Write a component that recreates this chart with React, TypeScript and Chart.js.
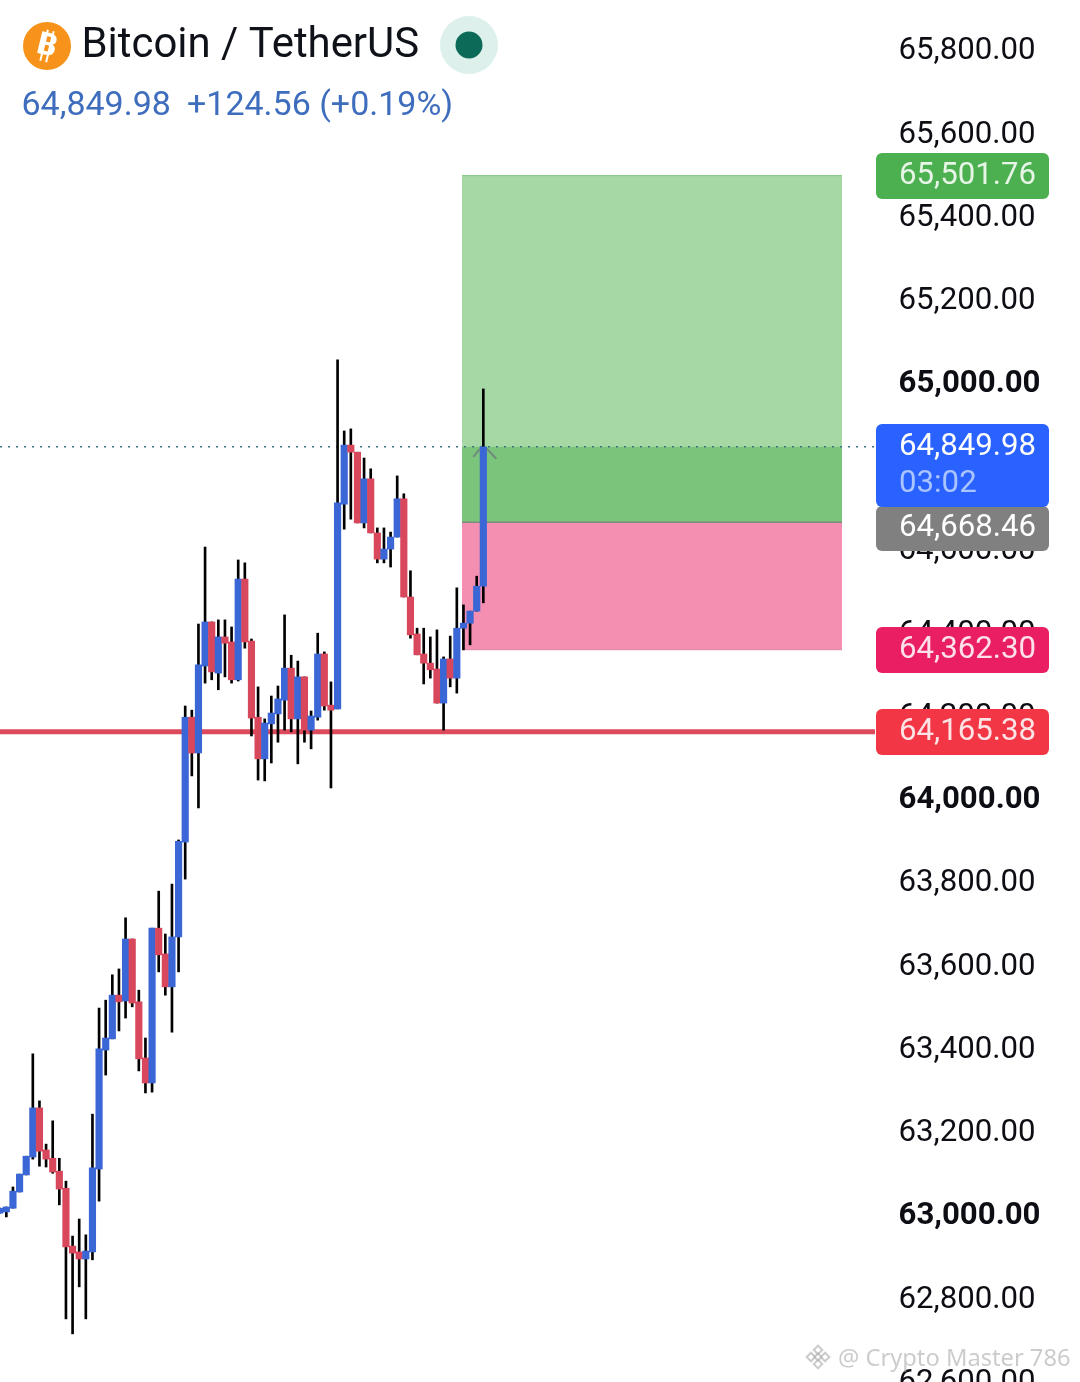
import React, { useEffect, useRef } from "react";
import { Chart, registerables } from "chart.js";

Chart.register(...registerables);

const opens = [63008,63011,63020,63059,63100,63143,63261,63160,63140,63109,63068,62929,62915,62898,62915,63114,63400,63427,63532,63518,63667,63516,63381,63321,63693,63631,63552,63672,63900,64200,64114,64323,64429,64306,64393,64381,64290,64532,64383,64200,64100,64184,64208,64241,64318,64196,64297,64169,64200,64352,64229,64220,64712,64854,64837,64667,64773,64643,64580,64604,64633,64725,64489,64400,64352,64330,64316,64234,64340,64294,64414,64426,64455,64515];
const closes = [63020,63023,63061,63102,63145,63261,63157,63138,63107,63066,62927,62912,62898,62917,63117,63403,63429,63532,63516,63667,63513,63379,63321,63693,63629,63552,63672,63902,64200,64114,64326,64429,64309,64393,64378,64290,64532,64381,64198,64100,64186,64210,64244,64318,64196,64297,64169,64203,64352,64227,64217,64715,64854,64837,64667,64773,64643,64580,64604,64633,64725,64489,64398,64350,64330,64314,64234,64340,64294,64414,64426,64455,64515,64849.98];
const highs = [63020,63023,63071,63102,63145,63391,63278,63174,63230,63140,63085,62953,62994,62956,63246,63501,63520,63581,63595,63718,63667,63544,63429,63693,63782,63679,63799,63905,64227,64217,64424,64609,64429,64434,64434,64417,64578,64571,64388,64273,64196,64251,64275,64446,64349,64335,64297,64215,64402,64357,64285,65059,64888,64893,64837,64823,64797,64655,64655,64645,64780,64737,64552,64414,64414,64393,64410,64345,64395,64511,64470,64455,64539,64989];
const lows = [63008,62999,63020,63059,63100,63138,63121,63119,63104,63028,62754,62718,62831,62754,62896,63037,63340,63427,63446,63477,63504,63350,63297,63299,63588,63532,63443,63588,63811,64059,63982,64282,64290,64266,64297,64282,64287,64366,64155,64049,64047,64090,64140,64169,64165,64088,64140,64124,64193,64217,64030,64220,64652,64676,64667,64655,64643,64571,64571,64561,64633,64489,64390,64350,64280,64294,64234,64169,64273,64258,64362,64374,64455,64475];

const tickValues = [62600,62800,63000,63200,63400,63600,63800,64000,64200,64400,64600,64800,65000,65200,65400,65600,65800];

const currentPrice = 64849.98;
const targetPrice = 65501.76;
const entryPrice = 64668.46;
const stopPrice = 64362.3;
const supportPrice = 64165.38;
const boxStartIndex = 69.78;
const boxEndIndex = 127.14;
const axisEndIndex = 132.12;
const axisStartIndex = 0.045;

const titleText = "Bitcoin / TetherUS";
const quoteText = "64,849.98";
const changeText = "+124.56 (+0.19%)";
const countdownText = "03:02";
const watermarkText = "@ Crypto Master 786";

const BLUE = "#3a66d6";
const RED = "#d9475c";

const fmt = (v: number) =>
  v.toLocaleString("en-US", { minimumFractionDigits: 2, maximumFractionDigits: 2 });

function flatLine(label: string, from: number, to: number, value: number, extra: any) {
  return {
    type: "line",
    label,
    yAxisID: "y",
    data: [{ x: from, y: value }, { x: to, y: value }],
    pointRadius: 0,
    borderWidth: 1,
    ...extra,
  };
}

function roundBox(ctx: CanvasRenderingContext2D, x: number, y: number, w: number, h: number, r: number, color: string) {
  ctx.fillStyle = color;
  ctx.beginPath();
  ctx.roundRect(x, y, w, h, r);
  ctx.fill();
}

const overlay = {
  id: "overlay",
  afterDraw(chart: any) {
    const ctx: CanvasRenderingContext2D = chart.ctx;
    const yScale = chart.scales.y;
    const xScale = chart.scales.x;
    const py = (v: number) => yScale.getPixelForValue(v);

    ctx.save();
    ctx.textBaseline = "middle";
    ctx.textAlign = "left";

    // header
    ctx.fillStyle = "#f7931a";
    ctx.beginPath();
    ctx.arc(47, 46, 24, 0, Math.PI * 2);
    ctx.fill();
    ctx.save();
    ctx.translate(47, 46);
    ctx.rotate(0.24);
    ctx.fillStyle = "#fff";
    ctx.textAlign = "center";
    ctx.font = "700 31px Roboto";
    ctx.fillText("B", 0, 1);
    ctx.fillRect(-4, -16, 2, 32);
    ctx.fillRect(2, -16, 2, 32);
    ctx.restore();

    ctx.fillStyle = "#0f1218";
    ctx.font = "400 41.9px Roboto";
    ctx.fillText(titleText, 81.5, 47);
    ctx.fillStyle = "#3f6dbd";
    ctx.font = "400 34px Roboto";
    ctx.fillText(quoteText, 21.5, 106);
    ctx.fillText(changeText, 187, 106);

    ctx.fillStyle = "#ddf0ec";
    ctx.beginPath();
    ctx.arc(469, 45, 29, 0, Math.PI * 2);
    ctx.fill();
    ctx.fillStyle = "#0c6b58";
    ctx.beginPath();
    ctx.arc(469, 45, 13.5, 0, Math.PI * 2);
    ctx.fill();

    // chevron behind the last price
    const lastX = xScale.getPixelForValue(opens.length - 1);
    const lastY = py(currentPrice);
    ctx.strokeStyle = "rgba(110,120,125,0.75)";
    ctx.lineWidth = 2;
    ctx.beginPath();
    ctx.moveTo(lastX - 10, lastY + 10);
    ctx.lineTo(lastX - 3.5, lastY + 2);
    ctx.moveTo(lastX + 3.5, lastY + 2);
    ctx.lineTo(lastX + 13, lastY + 12);
    ctx.stroke();

    // price badges
    const bx = 876;
    const bw = 173;
    const tx = 899;
    ctx.font = "400 31.2px Roboto";
    const badges = [
      { v: targetPrice, top: 153, h: 46, c: "#4caf50", t: "#e6f5e6", off: 23 },
      { v: supportPrice, top: 709, h: 46, c: "#f23645", t: "#fde3e5", off: 23 },
      { v: stopPrice, top: 627, h: 46, c: "#e91e63", t: "#fde0ea", off: 23 },
    ];
    for (const b of badges) {
      roundBox(ctx, bx, b.top, bw, b.h, 6, b.c);
      ctx.fillStyle = b.t;
      ctx.fillText(fmt(b.v), tx, b.top + b.off);
    }
    roundBox(ctx, bx, 506, bw, 45, 6, "#808080");
    ctx.fillStyle = "#ffffff";
    ctx.fillText(fmt(entryPrice), tx, 528);
    roundBox(ctx, bx, 424, bw, 83, 6, "#2962ff");
    ctx.fillStyle = "#ffffff";
    ctx.fillText(fmt(currentPrice), tx, 447.5);
    ctx.fillStyle = "#a9c4ff";
    ctx.fillText(countdownText, tx, 484);

    // watermark
    ctx.fillStyle = "rgba(170,170,170,0.6)";
    ctx.font = "400 23.7px 'Noto Sans'";
    ctx.fillText(watermarkText, 838, 1359);
    ctx.strokeStyle = "rgba(175,175,175,0.65)";
    ctx.lineWidth = 2;
    ctx.translate(818, 1357);
    ctx.rotate(Math.PI / 4);
    for (const [dx, dy, s] of [[-5, -5, 6], [5, -5, 6], [-5, 5, 6], [5, 5, 6], [0, 0, 5]] as number[][]) {
      ctx.strokeRect(dx - s / 2, dy - s / 2, s, s);
    }
    ctx.restore();
  },
};

export default function App() {
  const ref = useRef<HTMLCanvasElement | null>(null);
  useEffect(() => {
    document.body.style.margin = "0";
    document.body.style.background = "#ffffff";
    const chart = new Chart(ref.current as HTMLCanvasElement, {
      type: "bar",
      data: {
        datasets: [
          flatLine("Target zone", boxStartIndex, boxEndIndex, targetPrice, {
            fill: { value: entryPrice },
            backgroundColor: "#a5d8a4",
            borderColor: "#84c784",
            order: 12,
          }),
          flatLine("Open profit", boxStartIndex, boxEndIndex, currentPrice, {
            fill: { value: entryPrice },
            backgroundColor: "#7bc47b",
            borderColor: "rgba(0,0,0,0)",
            order: 11,
          }),
          flatLine("Stop zone", boxStartIndex, boxEndIndex, stopPrice, {
            fill: { value: entryPrice },
            backgroundColor: "#f48fb1",
            borderColor: "#de86a6",
            order: 10,
          }),
          flatLine("Entry", boxStartIndex, boxEndIndex, entryPrice, {
            borderColor: "#7f8a80",
            borderWidth: 1.5,
            order: 9,
          }),
          flatLine("Support", axisStartIndex, axisEndIndex, supportPrice, {
            borderColor: "#dc4a5c",
            borderWidth: 5,
            order: 8,
          }),
          flatLine("Last price", axisStartIndex, axisEndIndex, currentPrice, {
            borderColor: "#3f7580",
            borderWidth: 1.5,
            borderDash: [2, 6],
            order: 7,
          }),
          {
            type: "bar",
            label: "Wicks",
            yAxisID: "y",
            data: lows.map((l, i) => ({ x: i, y: [l, highs[i]] })),
            backgroundColor: "#000000",
            barThickness: 2,
            grouped: false,
            order: 2,
          },
          {
            type: "bar",
            label: "Bodies",
            yAxisID: "y",
            data: opens.map((o, i) => ({ x: i, y: [o, closes[i]] })),
            backgroundColor: opens.map((o, i) => (closes[i] >= o ? BLUE : RED)),
            barThickness: 6.5,
            grouped: false,
            order: 1,
          },
        ] as any,
      },
      options: {
        responsive: false,
        animation: false,
        devicePixelRatio: 1,
        layout: { padding: 0 },
        plugins: { legend: { display: false }, tooltip: { enabled: false } },
        scales: {
          x: { type: "linear", offset: false, min: axisStartIndex, max: axisEndIndex, display: false },
          y: {
            type: "linear",
            position: "right",
            min: 62602.3,
            max: 65923.8,
            border: { display: false },
            grid: { display: false, drawTicks: false },
            afterBuildTicks: (s: any) => {
              s.ticks = tickValues.map((value) => ({ value }));
            },
            afterFit: (s: any) => {
              s.width = 205;
              s.paddingTop = 0;
              s.paddingBottom = 0;
            },
            ticks: {
              autoSkip: false,
              padding: 23.5,
              color: "#0c0e14",
              callback: (v: any) => fmt(Number(v)),
              font: (c: any) => {
                const major = c.tick && c.tick.value % 1000 === 0;
                return { family: "Roboto", size: 31.2, weight: major ? 700 : 400 };
              },
            },
          },
        },
      } as any,
      plugins: [overlay as any],
    });
    return () => chart.destroy();
  }, []);
  return <canvas ref={ref} width={1080} height={1382} style={{ display: "block" }} />;
}
